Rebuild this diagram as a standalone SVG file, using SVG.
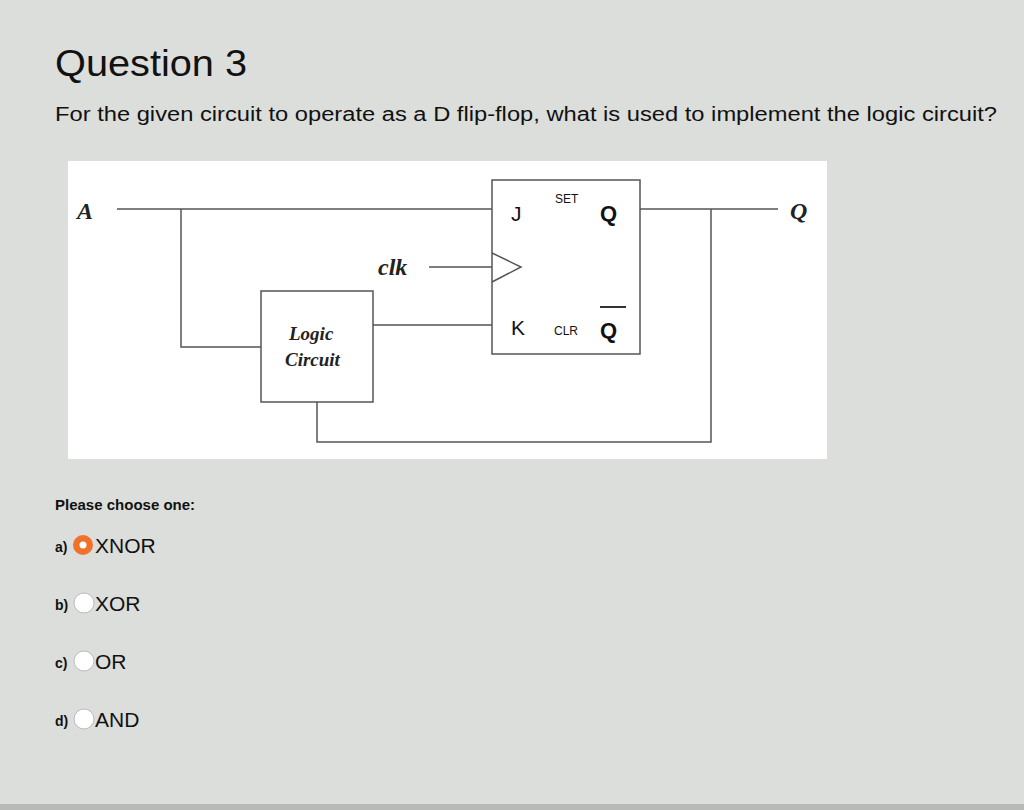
<svg xmlns="http://www.w3.org/2000/svg" width="1024" height="810" viewBox="0 0 1024 810">
<style>
.w{stroke:#555;stroke-width:1.5;fill:none}
.s{font-family:"Liberation Sans",Arial,sans-serif;fill:#111}
.r{font-family:"Liberation Serif","Times New Roman",serif;font-style:italic;font-weight:bold;fill:#222}
.rad{fill:#fff;stroke:#bbb;stroke-width:1}
</style>
<rect width="1024" height="810" fill="#dcdedb"/>
<rect x="0" y="804" width="1024" height="6" fill="#b8bab7"/>
<text class="s" x="55" y="76" font-size="36" textLength="192" lengthAdjust="spacingAndGlyphs">Question 3</text>
<text class="s" x="55" y="121" font-size="20" textLength="942" lengthAdjust="spacingAndGlyphs">For the given circuit to operate as a D flip-flop, what is used to implement the logic circuit?</text>
<rect x="68" y="161" width="759" height="298" fill="#fff"/>
<g id="connectors">
<path class="w" d="M117 209H492M181 209V347H261M373 325H492M429 267H492M640 209H778M711 209V442H317V402"/>
<path class="w" d="M492 253L521 267L492 282"/>
</g>
<g id="ff">
<rect class="w" x="492" y="180" width="148" height="174"/>
<text class="s" x="511" y="221" font-size="21">J</text>
<text class="s" x="555" y="203" font-size="12">SET</text>
<text class="s" x="600" y="221" font-size="22" font-weight="bold" fill="#333">Q</text>
<text class="s" x="511" y="335" font-size="21">K</text>
<text class="s" x="554" y="335" font-size="12">CLR</text>
<text class="s" x="600" y="338" font-size="22" font-weight="bold" fill="#333">Q</text>
<line x1="600" y1="307" x2="626" y2="307" stroke="#333" stroke-width="2"/>
</g>
<g id="logic">
<rect class="w" x="261" y="291" width="112" height="111"/>
<text class="r" x="289" y="340" font-size="19">Logic</text>
<text class="r" x="285" y="366" font-size="19">Circuit</text>
</g>
<g id="labels">
<text class="r" x="77" y="219" font-size="24">A</text>
<text class="r" x="378" y="275" font-size="24">clk</text>
<text class="r" x="790" y="219" font-size="24">Q</text>
</g>
<text class="s" x="55" y="510" font-size="15" font-weight="bold">Please choose one:</text>
<g id="options">
<text class="s" x="55" y="552" font-size="14" font-weight="bold">a)</text>
<circle cx="83" cy="545" r="10" fill="#f0712a"/><circle cx="83" cy="545" r="3.5" fill="#fff"/>
<text class="s" x="95" y="553" font-size="21">XNOR</text>
<text class="s" x="55" y="610" font-size="14" font-weight="bold">b)</text>
<circle class="rad" cx="84" cy="603" r="10"/>
<text class="s" x="95" y="611" font-size="21">XOR</text>
<text class="s" x="55" y="668" font-size="14" font-weight="bold">c)</text>
<circle class="rad" cx="84" cy="661" r="10"/>
<text class="s" x="95" y="669" font-size="21">OR</text>
<text class="s" x="55" y="726" font-size="14" font-weight="bold">d)</text>
<circle class="rad" cx="84" cy="719" r="10"/>
<text class="s" x="95" y="727" font-size="21">AND</text>
</g>
</svg>
